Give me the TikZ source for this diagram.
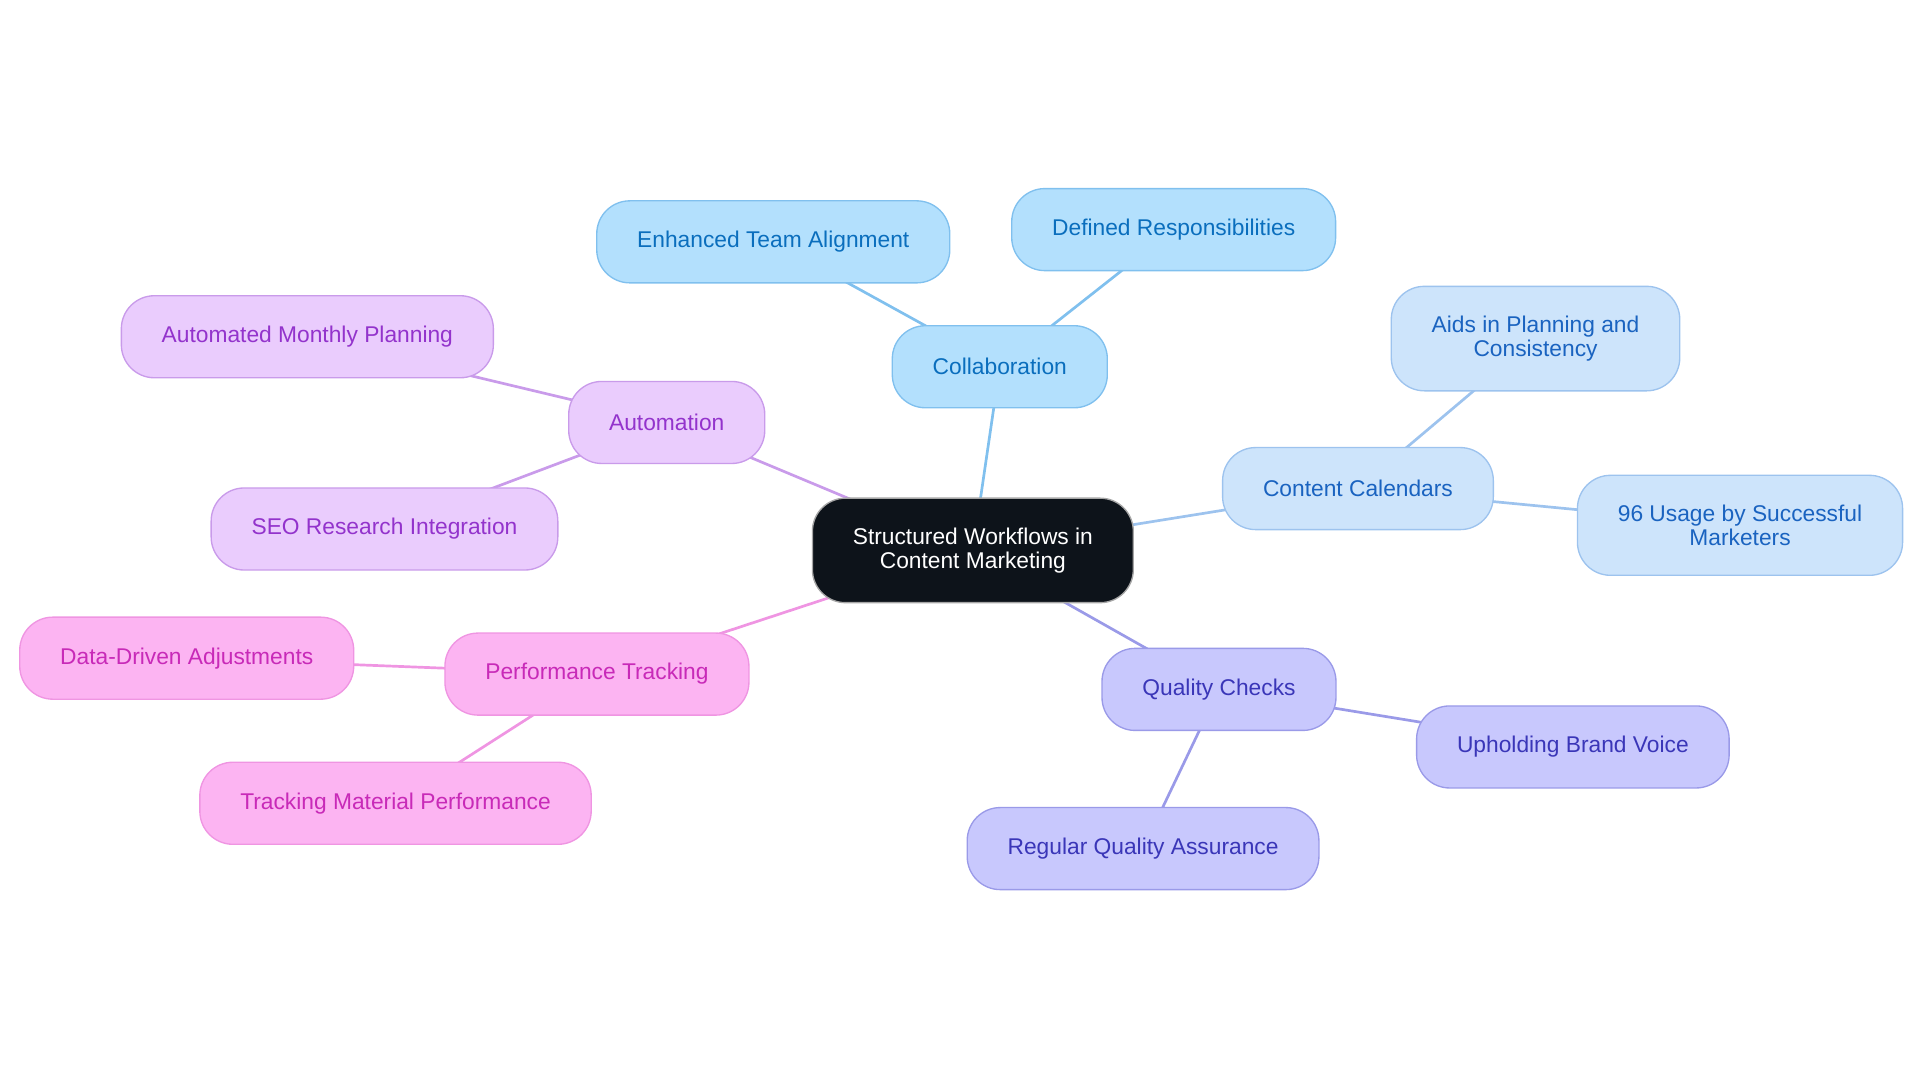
\documentclass[tikz,border=0pt]{standalone}
\usepackage{fontspec}
\setmainfont{Liberation Sans}
\usetikzlibrary{backgrounds}

\definecolor{rootfill}{HTML}{0D131A}
\definecolor{collabfill}{HTML}{B3E0FD}
\definecolor{collabdraw}{HTML}{80C0EE}
\definecolor{collabtext}{HTML}{0A6EBD}
\definecolor{calfill}{HTML}{CDE4FB}
\definecolor{caldraw}{HTML}{9DC3EE}
\definecolor{caltext}{HTML}{1A63C0}
\definecolor{qualfill}{HTML}{C8C8FD}
\definecolor{qualdraw}{HTML}{9A9AE8}
\definecolor{qualtext}{HTML}{3A36B8}
\definecolor{perffill}{HTML}{FCB4F2}
\definecolor{perfdraw}{HTML}{EF95E2}
\definecolor{perftext}{HTML}{C82AB8}
\definecolor{autofill}{HTML}{EACCFD}
\definecolor{autodraw}{HTML}{C99BEA}
\definecolor{autotext}{HTML}{9333CC}

\tikzstyle{pill}=[rounded corners=27pt, line width=1.1pt, align=center, inner xsep=33pt, inner ysep=24pt, minimum height=67pt, font=\fontsize{18.6}{20}\selectfont]
\tikzstyle{root}=[pill, fill=rootfill, draw=gray!70, text=white]
\tikzstyle{collab}=[pill, fill=collabfill, draw=collabdraw, text=collabtext]
\tikzstyle{calendar}=[pill, fill=calfill, draw=caldraw, text=caltext]
\tikzstyle{quality}=[pill, fill=qualfill, draw=qualdraw, text=qualtext]
\tikzstyle{perf}=[pill, fill=perffill, draw=perfdraw, text=perftext]
\tikzstyle{autobox}=[pill, fill=autofill, draw=autodraw, text=autotext]
\tikzstyle{link}=[line width=2.2pt]

\begin{document}
\begin{tikzpicture}[x=1pt, y=-1pt]
    \useasboundingbox (0,0) rectangle (1568,884);
    \node (root) [root] at (794.5,449.5) {Structured Workflows in\\Content Marketing};

    \node (collab)   [collab] at (816.5,299.5) {Collaboration};
    \node (team)     [collab] at (631.5,197.5) {Enhanced Team Alignment};
    \node (roles)    [collab] at (958.5,187.5) {Defined Responsibilities};

    \node (calendar) [calendar] at (1109,399)   {Content Calendars};
    \node (aids)     [calendar] at (1254,276.5) {Aids in Planning and\\Consistency};
    \node (usage)    [calendar] at (1421,429)   {96 Usage by Successful\\Marketers};

    \node (quality)  [quality] at (995.5,563)  {Quality Checks};
    \node (voice)    [quality] at (1284.5,610) {Upholding Brand Voice};
    \node (assure)   [quality] at (933.5,693)  {Regular Quality Assurance};

    \node (perf)     [perf] at (487.5,550.5) {Performance Tracking};
    \node (adjust)   [perf] at (152.5,537.5) {Data-Driven Adjustments};
    \node (material) [perf] at (323,656)     {Tracking Material Performance};

    \node (automate) [autobox] at (544.5,345) {Automation};
    \node (monthly)  [autobox] at (251,275)   {Automated Monthly Planning};
    \node (seo)      [autobox] at (314,432)   {SEO Research Integration};

    \begin{pgfonlayer}{background}
        \draw [link, collabdraw] (root.center) -- (collab.center);
        \draw [link, collabdraw] (collab.center) -- (team.center);
        \draw [link, collabdraw] (collab.center) -- (roles.center);
        \draw [link, caldraw] (root.center) -- (calendar.center);
        \draw [link, caldraw] (calendar.center) -- (aids.center);
        \draw [link, caldraw] (calendar.center) -- (usage.center);
        \draw [link, qualdraw] (root.center) -- (quality.center);
        \draw [link, qualdraw] (quality.center) -- (voice.center);
        \draw [link, qualdraw] (quality.center) -- (assure.center);
        \draw [link, perfdraw] (root.center) -- (perf.center);
        \draw [link, perfdraw] (perf.center) -- (adjust.center);
        \draw [link, perfdraw] (perf.center) -- (material.center);
        \draw [link, autodraw] (root.center) -- (automate.center);
        \draw [link, autodraw] (automate.center) -- (monthly.center);
        \draw [link, autodraw] (automate.center) -- (seo.center);
    \end{pgfonlayer}
\end{tikzpicture}
\end{document}
